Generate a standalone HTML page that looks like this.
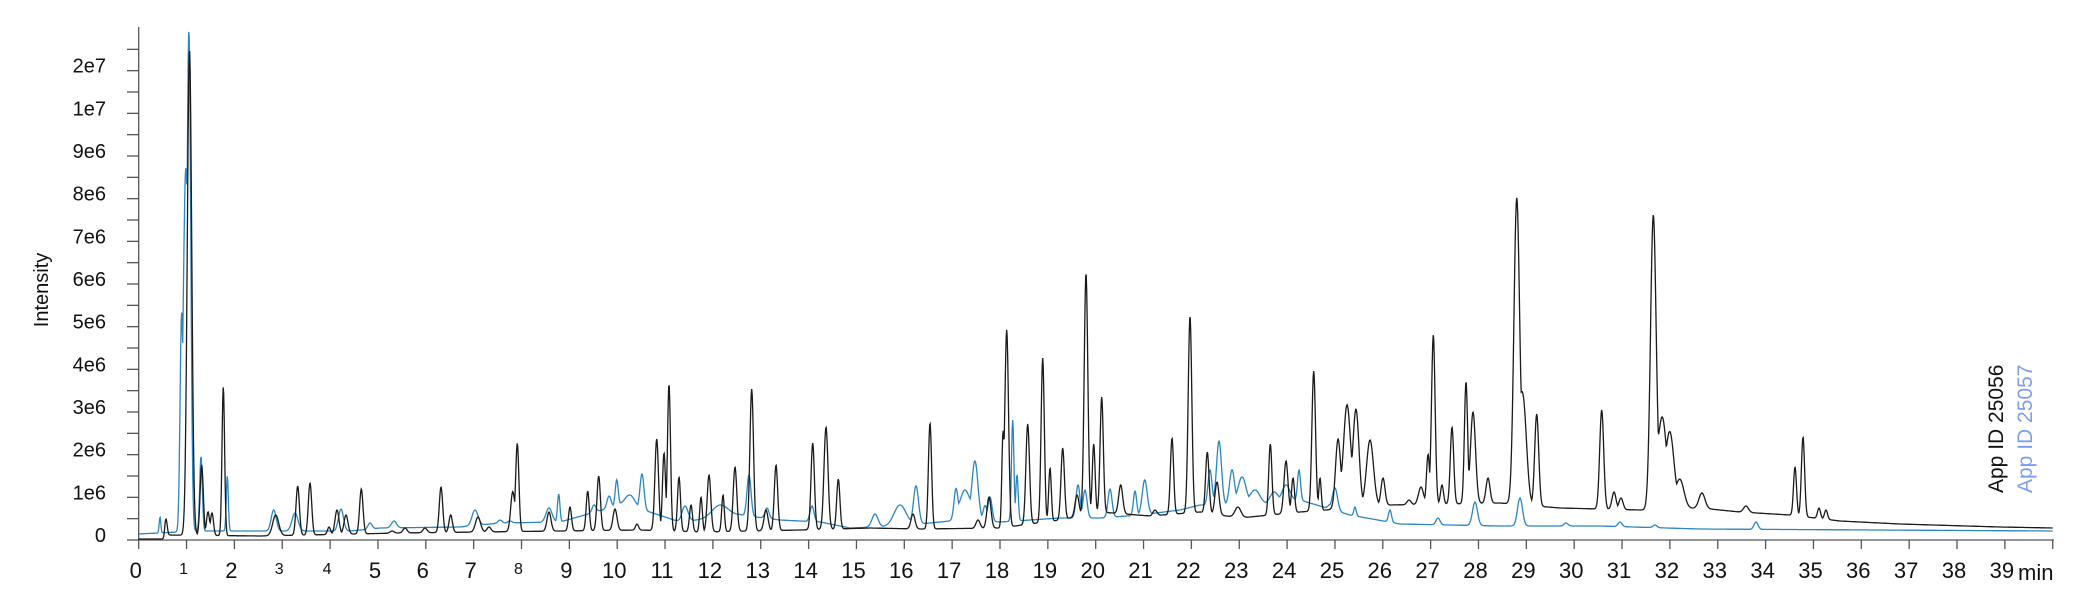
<!DOCTYPE html>
<html><head><meta charset="utf-8"><style>
html,body{margin:0;padding:0;background:#fff;}
svg{display:block;font-family:"Liberation Sans",sans-serif;}
</style></head><body>
<svg id="s" width="2091" height="608" viewBox="0 0 2091 608" xmlns="http://www.w3.org/2000/svg">
<g id="axes" stroke="#555" stroke-width="1.3" fill="none"></g>
<g id="labels" fill="#111"></g>
<path id="blue" fill="none" stroke="#2b86c0" stroke-width="1.3"/>
<path id="black" fill="none" stroke="#1a1a1a" stroke-width="1.3"/>
<text x="0" y="0" transform="translate(48,290) rotate(-90)" text-anchor="middle" font-size="20" fill="#111">Intensity</text>
<text transform="translate(2003,493) rotate(-90)" font-size="21" fill="#111">App ID 25056</text>
<text transform="translate(2032,493) rotate(-90)" font-size="21" fill="#7d9df0">App ID 25057</text>
<text x="2018" y="580" font-size="22" fill="#111">min</text>
</svg>
<script>
var NS="http://www.w3.org/2000/svg";
var ax=document.getElementById('axes'),lb=document.getElementById('labels');
function el(p,tag,a,t){var e=document.createElementNS(NS,tag);for(var k in a)e.setAttribute(k,a[k]);if(t!==undefined)e.textContent=t;p.appendChild(e);return e;}
el(ax,'line',{x1:138.7,y1:27,x2:138.7,y2:540});
el(ax,'line',{x1:138,y1:540,x2:2054,y2:540});
for(var i=0;i<=23;i++){var y=540-i*21.333;el(ax,'line',{x1:127,y1:y,x2:138.7,y2:y});}
var yl=['0','1e6','2e6','3e6','4e6','5e6','6e6','7e6','8e6','9e6','1e7','2e7'];
for(var i=0;i<yl.length;i++){el(lb,'text',{x:106,y:540-i*42.667+2,'text-anchor':'end','font-size':20},yl[i]);}
var small={1:1,3:1,4:1,8:1};
for(var t=0;t<=40;t++){var x=138.7+47.85*t;el(ax,'line',{x1:x,y1:540,x2:x,y2:549});
 if(t<40)el(lb,'text',{x:x-3,y:t in small?574:578,'text-anchor':'middle','font-size':t in small?16:22},String(t));}
function interp(pts,x){for(var i=0;i<pts.length-1;i++){if(x<=pts[i+1][0]){var a=pts[i],b=pts[i+1];return a[1]+(b[1]-a[1])*(x-a[0])/(b[0]-a[0]);}}return pts[pts.length-1][1];}
function build(base,pk){var d='';for(var x=138.7;x<=2053;x+=0.5){var b=interp(base,x),v=0,s=0;
 for(var j=0;j<pk.length;j++){var p=pk[j],dx=(x-p[0])/p[2];if(dx>-6&&dx<6){var c=(interp(base,p[0])-p[1])*Math.exp(-0.5*dx*dx);if(c>v)v=c;s+=c;}}
 var val=v+0.25*(s-v);var y=b-val;d+=(d?'L':'M')+x.toFixed(1)+' '+y.toFixed(1);}return d;}
var bBase=[[138,539],[164,539],[165,535],[260,536],[400,533],[560,531],[640,530],[700,532],[800,530],[870,528],[920,529],[1000,528],[1060,520],[1100,512],[1150,516],[1200,512],[1240,518],[1300,512],[1390,505],[1500,503],[1560,508],[1640,510],[1700,508],[1740,512],[1790,515],[1840,521],[1900,524],[2000,527],[2053,528]];
var bPk=[[166,519,1.2],[189.5,49,2.2],[201.7,465,1.6],[208,512,1.5],[212,513,1.5],[223.3,387,1.3],[275.7,515,3],[297.7,486,1.7],[310,483,1.7],[329,527,1.5],[337,510,2],[346,515,2],[361.3,489,1.7],[392,531,2],[405,528,2],[425,528,2],[441,487,1.7],[450.7,515,1.7],[478,517,2.5],[489,527,2],[512.7,492,2],[517.3,444,1.6],[549,512,2],[570,507,1.5],[587.7,491,1.5],[598.7,476,1.7],[615,509,2],[637,524,1.5],[656.7,439,1.8],[664,453,1.5],[669,384,1.5],[679,477,1.5],[691,505,1.5],[701,497,1.3],[709,475,1.8],[723,495,1.3],[735,467,1.8],[751.7,389,1.8],[766,510,2],[776,465,1.7],[812.7,443,1.7],[826,427,2],[838.3,479,1.6],[913,514,2],[930,423,1.6],[978,520,2],[989,497,2],[1003,437,1.2],[1006.7,330,1.8],[1027.7,424,1.8],[1042.7,358,1.6],[1050,468,1.3],[1062.7,448,1.7],[1077,495,2],[1086,273,1.8],[1093.7,444,1.4],[1101.7,397,1.6],[1120.7,485,2],[1137,515,2],[1155,510,2],[1172,438,1.6],[1190,316,1.8],[1207.3,452,1.7],[1217,482,2],[1238,507,3],[1270.3,444,1.6],[1286,461,2],[1293,478,1.5],[1313.7,371,1.8],[1320,478,1.2],[1338,440,2.5],[1347,405,3.5],[1356,410,3],[1370,440,3.5],[1383,478,2],[1409,500,2],[1421,487,2.5],[1428,455,1.5],[1433.3,335,1.8],[1442,485,1.5],[1452,427,1.7],[1466,382,1.6],[1473,412,2.5],[1488,478,2],[1516.7,203,2.8],[1523,400,3.5],[1536.7,414,2],[1601.7,410,2],[1614,492,2],[1621,498,2],[1653.3,217,2.8],[1662,420,4],[1670,435,4],[1680,480,4],[1702,493,3],[1746,506,2.5],[1795,467,1.5],[1803,437,1.6],[1819,508,1.5],[1826,510,1.5]];
var uBase=[[138,534],[178,532],[200,531],[260,531],[350,531],[380,528],[460,527],[500,523],[560,522],[620,505],[650,512],[680,522],[740,515],[780,520],[820,522],[850,528],[900,526],[960,520],[1000,522],[1060,518],[1100,518],[1140,515],[1180,510],[1200,505],[1260,505],[1300,500],[1350,515],[1400,524],[1500,526],[1600,526],[1700,529],[2053,531]];
var uPk=[[160,517,0.8],[181.5,330,1.5],[185.5,190,2.2],[189,55,1.8],[201,456,1.3],[227.3,476,1],[273.7,510,2.5],[295,513,3],[341,509,2.5],[370,523,2],[394,521,2.5],[475,510,3],[500,520,2],[510,521,2],[549,508,3],[558.7,494,1.2],[594,505,2],[609,496,2],[616.7,480,1.5],[630,495,5],[642,474,2],[685,506,3],[720,505,8],[749,475,2],[767,508,2],[812,506,2],[875,514,3],[900,505,6],[916,486,2.5],[956,490,2],[965,490,5],[975,462,3],[985,506,2],[990,497,2],[1012.7,420,1.2],[1017,475,1.2],[1078,485,2],[1085,490,2],[1110,489,2],[1135,491,1.6],[1144.7,480,2.5],[1210,470,2],[1219,441,2.5],[1232,470,2.5],[1242,477,4],[1255,490,5],[1274,492,4],[1286,485,4],[1299,470,1.5],[1330,505,2],[1335,488,2.5],[1355,507,1.2],[1390,510,1.5],[1438,518,2],[1475,502,2.5],[1520,498,2.5],[1566,523,2],[1620,522,2],[1655,525,2],[1756,522,2]];
document.getElementById('black').setAttribute('d',build(bBase,bPk));
document.getElementById('blue').setAttribute('d',build(uBase,uPk));
</script>
</body></html>
